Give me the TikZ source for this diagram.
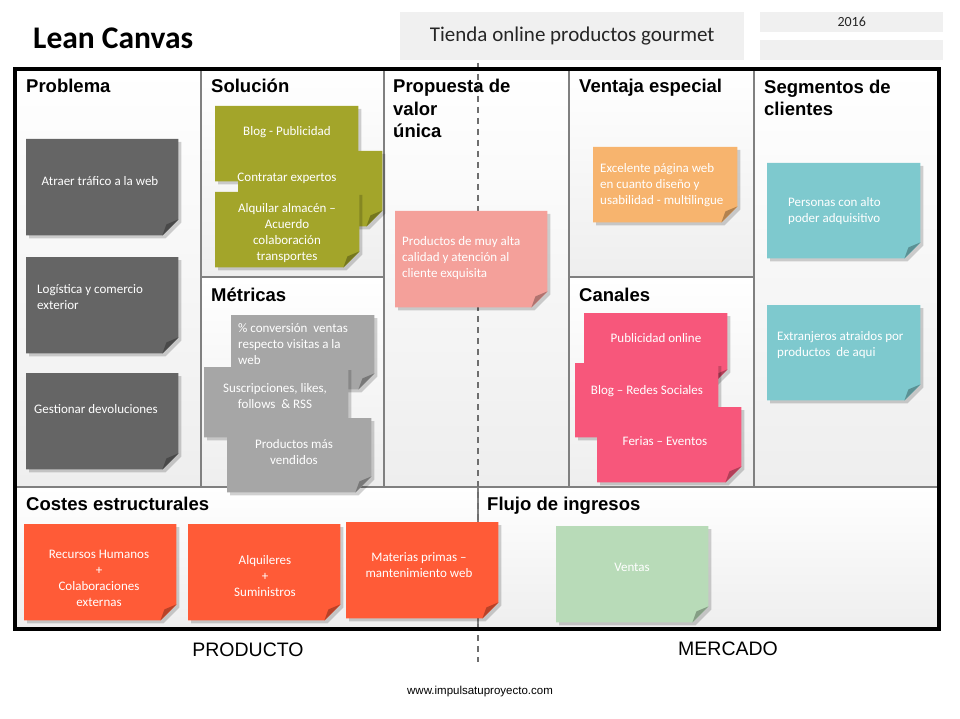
\documentclass[tikz,border=0pt]{standalone}
\usepackage{fontspec}
\setmainfont{Liberation Sans}
\newfontfamily\calib{Carlito}
\usetikzlibrary{calc}
\definecolor{lineg}{HTML}{808080}
\definecolor{cellbot}{HTML}{EEEEEE}
\definecolor{boxg}{HTML}{F0F0F0}
\definecolor{dashg}{HTML}{6E6E6E}
\definecolor{cDark}{HTML}{656565}
\definecolor{cOlive}{HTML}{A3A52A}
\definecolor{cRose}{HTML}{F4A09A}
\definecolor{cOrange}{HTML}{F7B46E}
\definecolor{cTeal}{HTML}{7EC9CE}
\definecolor{cGray}{HTML}{A6A6A6}
\definecolor{cPink}{HTML}{F7577B}
\definecolor{cRed}{HTML}{FF5B37}
\definecolor{cGreen}{HTML}{B8DBB8}
\tikzset{
  cell/.style={draw=lineg, line width=2pt, top color=white, bottom color=cellbot},
  hdr/.style={anchor=base west, inner sep=0pt, align=left,
    font=\bfseries\fontsize{18.5}{22.5}\selectfont},
  sticky/.style={rectangle, inner sep=0pt, anchor=north west,
    append after command={\pgfextra{\let\stk\tikzlastnode
      \fill[black, fill opacity=0.18] ($(\stk.north west)+(3,3)$) -- ($(\stk.north east)+(3,3)$)
        -- ($(\stk.south east)+(3,-13)$) -- ($(\stk.south east)+(-13,3)$)
        -- ($(\stk.south west)+(3,3)$) -- cycle;
      \fill[#1] (\stk.north west) -- (\stk.north east) -- ($(\stk.south east)+(0,-16)$)
        -- ($(\stk.south east)+(-16,0)$) -- (\stk.south west) -- cycle;
      \fill[#1!72!black] ($(\stk.south east)+(0,-16)$) -- ($(\stk.south east)+(-16,0)$)
        -- ($(\stk.south east)+(-12,-11)$) -- cycle;
    }}},
  ntext/.style={text=white, inner sep=0pt, font=\calib\fontsize{13}{16}\selectfont},
  ntl/.style={ntext, anchor=west, align=left},
  ntc/.style={ntext, anchor=center, align=center},
  dashline/.style={draw=dashg, line width=1.8pt, dash pattern=on 6pt off 5pt},
  graybox/.style={fill=boxg, draw=none, inner sep=0pt, anchor=north west},
  bottomlbl/.style={inner sep=0pt, font=\fontsize{19.5}{22}\selectfont},
}
\begin{document}
\begin{tikzpicture}[x=1pt,y=-1pt]
\useasboundingbox[fill=white] (0,0) rectangle (960,719);

% title area
\node[anchor=west, inner sep=0pt, font=\calib\bfseries\fontsize{31.5}{36}\selectfont] (title) at (33,38) {Lean Canvas};
\node[graybox, minimum width=344pt, minimum height=48pt] (proj) at (400,12) {};
\node[inner sep=0pt, text=black!85, font=\calib\fontsize{21}{24}\selectfont] (projt) at (proj.center) {Tienda online productos gourmet};
\node[graybox, minimum width=183pt, minimum height=20pt] (year) at (760,12) {};
\node[inner sep=0pt, text=black!85, font=\calib\fontsize{14}{16}\selectfont] (yeart) at (year.center) {2016};
\node[graybox, minimum width=183pt, minimum height=20pt] (blank) at (760,40) {};

% cells
\path[cell] (15,69) rectangle (201,487);
\path[cell] (201,69) rectangle (384,277);
\path[cell] (201,277) rectangle (384,487);
\path[cell] (384,69) rectangle (569,487);
\path[cell] (569,69) rectangle (754,277);
\path[cell] (569,277) rectangle (754,487);
\path[cell] (754,69) rectangle (939,487);
\path[cell] (15,487) rectangle (478,629);
\path[cell] (478,487) rectangle (939,629);

% dashed divider
\coordinate (dtop) at (478,63);
\coordinate (dbot) at (478,662);
\draw[dashline] (dtop) -- (dbot);

% outer frame
\draw[black, line width=4pt] (15,69) rectangle (939,629);

% headers (base anchor = baseline of the last line)
\node[hdr] (hProb) at (26,93) {Problema};
\node[hdr] (hSol) at (211,93) {Solución};
\node[hdr] (hProp) at (393,138) {Propuesta de\\valor\\única};
\node[hdr] (hVent) at (579,93) {Ventaja especial};
\node[hdr] (hSeg) at (764,116) {Segmentos de\\clientes};
\node[hdr] (hMet) at (211,301) {Métricas};
\node[hdr] (hCan) at (579,301) {Canales};
\node[hdr] (hCost) at (26,510) {Costes estructurales};
\node[hdr] (hFlu) at (487,510) {Flujo de ingresos};

% Problema
\node[sticky=cDark, minimum width=152pt, minimum height=96pt] (p1) at (26,139) {};
\node[ntc] (p1t) at (100,181) {Atraer tráfico a la web};
\node[sticky=cDark, minimum width=152pt, minimum height=96pt] (p2) at (26,257) {};
\node[ntl] (p2t) at (37,297) {Logística y comercio\\exterior};
\node[sticky=cDark, minimum width=152pt, minimum height=96pt] (p3) at (26,373) {};
\node[ntl] (p3t) at (34,409) {Gestionar devoluciones};

% Solucion
\node[sticky=cOlive, minimum width=143pt, minimum height=75pt] (s1) at (215,106) {};
\node[ntc] (s1t) at (287,132) {Blog - Publicidad};
\node[sticky=cOlive, minimum width=144pt, minimum height=75pt] (s2) at (238,151) {};
\node[ntc] (s2t) at (287,178) {Contratar expertos};
\node[sticky=cOlive, minimum width=144pt, minimum height=75pt] (s3) at (215,192) {};
\node[ntc] (s3t) at (287,233) {Alquilar almacén –\\Acuerdo\\colaboración\\transportes};

% Propuesta
\node[sticky=cRose, minimum width=152pt, minimum height=96pt] (u1) at (395,211) {};
\node[ntl] (u1t) at (402,258) {Productos de muy alta\\calidad y atención al\\cliente exquisita};

% Ventaja
\node[sticky=cOrange, minimum width=144pt, minimum height=75pt] (v1) at (593,147) {};
\node[ntl] (v1t) at (600,185) {Excelente página web\\en cuanto diseño y\\usabilidad - multilingue};

% Segmentos
\node[sticky=cTeal, minimum width=153pt, minimum height=95pt] (g1) at (767,163) {};
\node[ntl] (g1t) at (788,211) {Personas con alto\\poder adquisitivo};
\node[sticky=cTeal, minimum width=153pt, minimum height=95pt] (g2) at (767,305) {};
\node[ntl] (g2t) at (777,345) {Extranjeros atraidos por\\productos\ \ de aqui};

% Metricas
\node[sticky=cGray, minimum width=143pt, minimum height=74pt] (m1) at (231,315) {};
\node[ntl] (m1t) at (238,344) {\% conversión\ \ ventas\\respecto visitas a la\\web};
\node[sticky=cGray, minimum width=144pt, minimum height=70pt] (m2) at (204,367) {};
\node[ntc] (m2t) at (275,396) {Suscripciones, likes,\\follows\ \ \& RSS};
\node[sticky=cGray, minimum width=144pt, minimum height=74pt] (m3) at (227,418) {};
\node[ntc] (m3t) at (294,452) {Productos más\\vendidos};

% Canales
\node[sticky=cPink, minimum width=143pt, minimum height=72pt] (k1) at (584,313) {};
\node[ntc] (k1t) at (656,338) {Publicidad online};
\node[sticky=cPink, minimum width=143pt, minimum height=74pt] (k2) at (575,363) {};
\node[ntc] (k2t) at (647,391) {Blog – Redes Sociales};
\node[sticky=cPink, minimum width=144pt, minimum height=75pt] (k3) at (597,407) {};
\node[ntc] (k3t) at (665,441) {Ferias – Eventos};

% Costes
\node[sticky=cRed, minimum width=152pt, minimum height=96pt] (e1) at (24,524) {};
\node[ntc] (e1t) at (99,578) {Recursos Humanos\\+\\Colaboraciones\\externas};
\node[sticky=cRed, minimum width=152pt, minimum height=96pt] (e2) at (188,524) {};
\node[ntc] (e2t) at (265,576) {Alquileres\\+\\Suministros};
\node[sticky=cRed, minimum width=152pt, minimum height=96pt] (e3) at (346,522) {};
\node[ntc] (e3t) at (419,565) {Materias primas –\\mantenimiento web};

% Flujo
\node[sticky=cGreen, minimum width=152pt, minimum height=96pt] (f1) at (556,526) {};
\node[ntc] (f1t) at (632,567) {Ventas};

% bottom labels
\node[bottomlbl] (prod) at (248,650) {PRODUCTO};
\node[bottomlbl] (merc) at (728,649) {MERCADO};
\node[inner sep=0pt, font=\fontsize{11.5}{13}\selectfont] (web) at (480,692) {www.impulsatuproyecto.com};
\end{tikzpicture}
\end{document}
